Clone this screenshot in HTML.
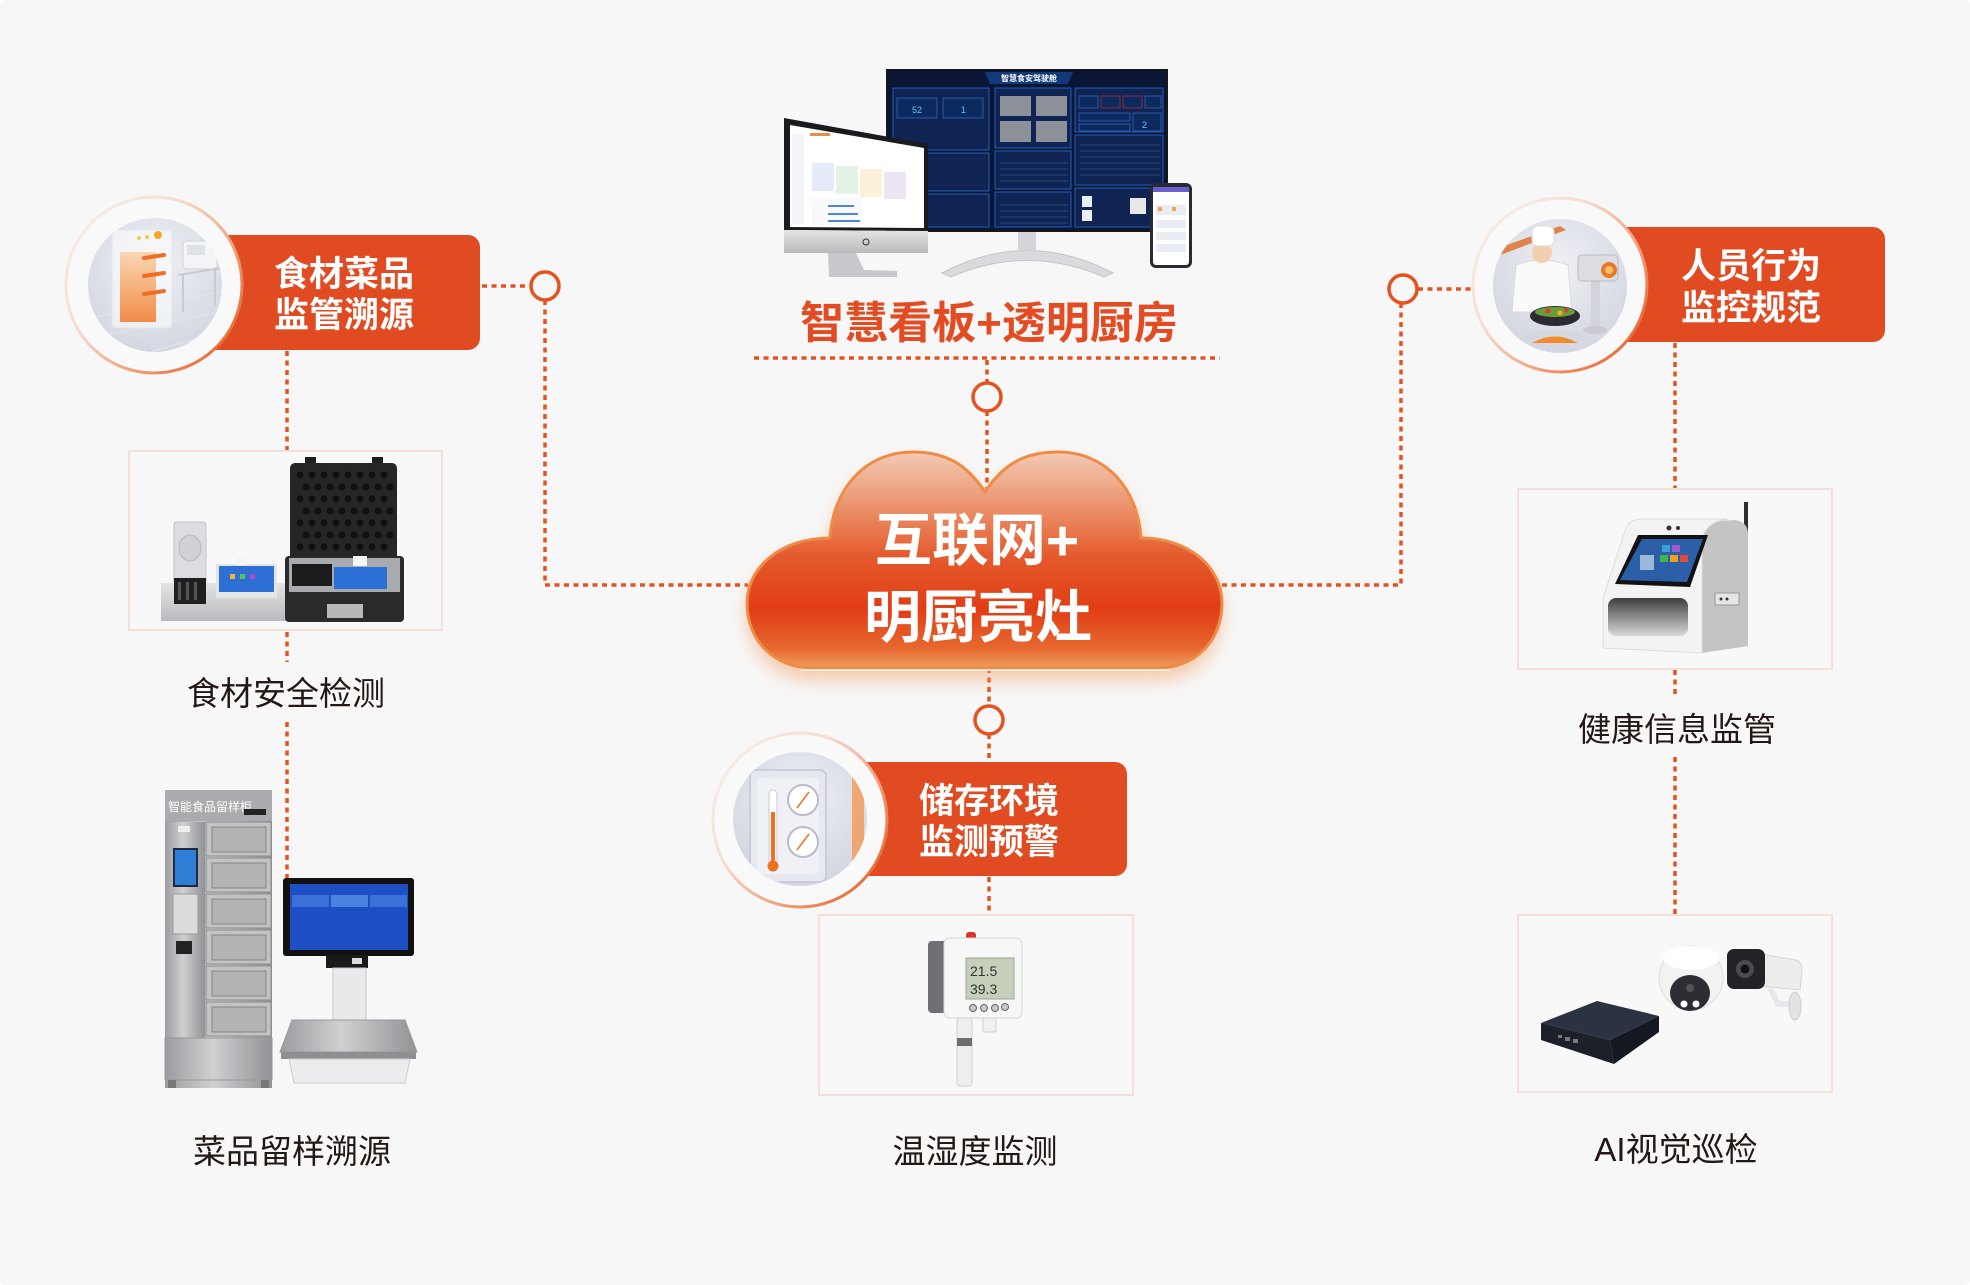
<!DOCTYPE html>
<html><head><meta charset="utf-8">
<style>
html,body{margin:0;padding:0;background:#ffffff;}
svg{display:block}
text{font-family:"Liberation Sans","Noto Sans CJK SC",sans-serif;}
</style></head><body>
<svg width="1970" height="1285" viewBox="0 0 1970 1285" xmlns="http://www.w3.org/2000/svg">
<defs>
 <linearGradient id="cloudG" x1="0" y1="452" x2="0" y2="670" gradientUnits="userSpaceOnUse">
  <stop offset="0" stop-color="#f3cab6"/>
  <stop offset="0.22" stop-color="#ec9a74"/>
  <stop offset="0.48" stop-color="#e45a2c"/>
  <stop offset="0.72" stop-color="#e13d15"/>
  <stop offset="0.9" stop-color="#e7682f"/>
  <stop offset="1" stop-color="#efa262"/>
 </linearGradient>
 <filter id="blur10" x="-30%" y="-30%" width="160%" height="180%"><feGaussianBlur stdDeviation="9"/></filter>
 <linearGradient id="ringG" x1="0" y1="0.1" x2="1" y2="0.9">
  <stop offset="0" stop-color="#f7f0ec"/>
  <stop offset="0.35" stop-color="#f6ddd0"/>
  <stop offset="0.65" stop-color="#f2a27c"/>
  <stop offset="1" stop-color="#e65a24"/>
 </linearGradient>
 <radialGradient id="photoBg" cx="0.5" cy="0.35" r="0.75">
  <stop offset="0" stop-color="#eff0f5"/>
  <stop offset="1" stop-color="#cdd0dc"/>
 </radialGradient>
 <linearGradient id="steel" x1="0" y1="0" x2="1" y2="0">
  <stop offset="0" stop-color="#9a9c9f"/>
  <stop offset="0.45" stop-color="#cfd0d2"/>
  <stop offset="1" stop-color="#909295"/>
 </linearGradient>
 <linearGradient id="silver" x1="0" y1="0" x2="0" y2="1">
  <stop offset="0" stop-color="#e4e4e6"/>
  <stop offset="1" stop-color="#b9babd"/>
 </linearGradient>
 <linearGradient id="orangeGlow" x1="0" y1="0" x2="0" y2="1">
  <stop offset="0" stop-color="#fbd1a8"/>
  <stop offset="1" stop-color="#f07a2a"/>
 </linearGradient>
 <linearGradient id="opening" x1="0" y1="0" x2="0" y2="1">
  <stop offset="0" stop-color="#3e3e3e"/>
  <stop offset="1" stop-color="#d9d9d9"/>
 </linearGradient>
 <clipPath id="c1"><circle cx="155" cy="285" r="67"/></clipPath>
 <clipPath id="c2"><circle cx="1560" cy="286" r="67"/></clipPath>
 <clipPath id="c3"><circle cx="800" cy="819" r="67"/></clipPath>
</defs>

<rect x="0" y="0" width="1970" height="1285" rx="6" fill="#f7f7f7"/>

<g fill="none" stroke="#e5521f" stroke-width="3.5" stroke-dasharray="5 4.5">
 <line x1="482" y1="286" x2="530" y2="286"/>
 <polyline points="545,300 545,585 748,585"/>
 <line x1="287" y1="351" x2="287" y2="450"/>
 <line x1="287" y1="632" x2="287" y2="662"/>
 <line x1="287" y1="722" x2="287" y2="878"/>
 <line x1="754" y1="358" x2="1220" y2="358"/>
 <line x1="987" y1="360" x2="987" y2="383"/>
 <line x1="987" y1="411" x2="987" y2="492"/>
 <polyline points="1222,585 1401,585 1401,303"/>
 <line x1="1418" y1="289" x2="1472" y2="289"/>
 <line x1="1675" y1="343" x2="1675" y2="489"/>
 <line x1="1675" y1="670" x2="1675" y2="696"/>
 <line x1="1675" y1="757" x2="1675" y2="914"/>
 <line x1="989" y1="668" x2="989" y2="706"/>
 <line x1="989" y1="734" x2="989" y2="762"/>
 <line x1="989" y1="877" x2="989" y2="915"/>
</g>
<g fill="#f7f7f7" stroke="#e5521f" stroke-width="3.5">
 <circle cx="545" cy="286" r="14"/>
 <circle cx="987" cy="397" r="14"/>
 <circle cx="1403" cy="289" r="14"/>
 <circle cx="989" cy="720" r="14"/>
</g>

<path d="M 985 502 C 966 473 944 462 913 462 C 864 462 833 500 830 548 C 780 548 747 578 747 613 C 747 650 774 680 812 680 L 1158 680 C 1196 680 1222 650 1222 613 C 1222 578 1190 548 1141 548 C 1138 500 1107 462 1058 462 C 1026 462 1004 473 985 502 Z" fill="#f2a26a" opacity="0.55" filter="url(#blur10)"/>
<path d="M 985 492 C 966 463 944 452 913 452 C 864 452 833 490 830 538 C 780 538 747 568 747 603 C 747 640 774 668 812 668 L 1158 668 C 1196 668 1222 640 1222 603 C 1222 568 1190 538 1141 538 C 1138 490 1107 452 1058 452 C 1026 452 1004 463 985 492 Z" fill="url(#cloudG)" stroke="#ee8b45" stroke-width="3"/>
<path d="M 800 670 L 1170 670" stroke="#fff3e6" stroke-width="2" opacity="0.8"/>
<text x="977" y="560" font-size="57" font-weight="700" fill="#ffffff" text-anchor="middle">互联网+</text>
<text x="978" y="637" font-size="57" font-weight="700" fill="#ffffff" text-anchor="middle">明厨亮灶</text>

<g>
 <rect x="1018" y="228" width="18" height="22" fill="#d4d5d8"/>
 <path d="M 942 273 Q 1027 228 1113 273 L 1104 277 Q 1027 244 951 277 Z" fill="#d9dadc" stroke="#c4c5c8" stroke-width="1"/>
 <rect x="886" y="69" width="282" height="163" fill="#15171c"/>
 <rect x="888" y="71" width="278" height="159" fill="#0a1633"/>
 <path d="M 985 72 L 1073 72 L 1068 84 L 990 84 Z" fill="#123a7a"/>
 <text x="1029" y="81" font-size="8" font-weight="700" fill="#ffffff" text-anchor="middle">智慧食安驾驶舱</text>
 <g fill="#0f2452" stroke="#2b6fd8" stroke-width="0.8">
  <rect x="893" y="88" width="96" height="62"/>
  <rect x="893" y="153" width="96" height="38"/>
  <rect x="893" y="194" width="96" height="33"/>
  <rect x="995" y="88" width="76" height="60"/>
  <rect x="995" y="151" width="76" height="38"/>
  <rect x="995" y="192" width="76" height="35"/>
  <rect x="1075" y="88" width="88" height="44"/>
  <rect x="1075" y="135" width="88" height="50"/>
  <rect x="1075" y="188" width="88" height="39"/>
 </g>
 <g fill="#8b9099">
  <rect x="1000" y="96" width="31" height="20"/><rect x="1036" y="96" width="31" height="20"/>
  <rect x="1000" y="121" width="31" height="21"/><rect x="1036" y="121" width="31" height="21"/>
 </g>
 <g fill="#0d2a5e" stroke="#3b7be0" stroke-width="0.6">
  <rect x="1079" y="96" width="19" height="12"/><rect x="1101" y="96" width="19" height="12" stroke="#d33"/>
  <rect x="1123" y="96" width="19" height="12" stroke="#d33"/><rect x="1145" y="96" width="16" height="12"/>
  <rect x="1079" y="113" width="51" height="8"/><rect x="1079" y="124" width="51" height="7"/>
  <rect x="1133" y="113" width="28" height="18"/>
  <rect x="897" y="98" width="40" height="20"/><rect x="943" y="98" width="40" height="20"/>
 </g>
 <text x="912" y="113" font-size="9" fill="#5ec8ff">52</text>
 <text x="961" y="113" font-size="9" fill="#5ec8ff">1</text>
 <text x="1142" y="128" font-size="9" fill="#5ec8ff">2</text>
 <g stroke="#3f6fb8" stroke-width="0.6">
  <line x1="1080" y1="145" x2="1160" y2="145"/><line x1="1080" y1="151" x2="1160" y2="151"/>
  <line x1="1080" y1="157" x2="1160" y2="157"/><line x1="1080" y1="163" x2="1160" y2="163"/>
  <line x1="1080" y1="169" x2="1160" y2="169"/><line x1="1080" y1="175" x2="1160" y2="175"/>
  <line x1="1000" y1="163" x2="1068" y2="163"/><line x1="1000" y1="169" x2="1068" y2="169"/>
  <line x1="1000" y1="175" x2="1068" y2="175"/><line x1="1000" y1="181" x2="1068" y2="181"/>
  <line x1="1000" y1="205" x2="1068" y2="205"/><line x1="1000" y1="211" x2="1068" y2="211"/>
  <line x1="1000" y1="217" x2="1068" y2="217"/><line x1="1000" y1="223" x2="1068" y2="223"/>
 </g>
 <rect x="1082" y="196" width="10" height="11" fill="#e8eef5"/><rect x="1082" y="210" width="10" height="11" fill="#e8eef5"/>
 <rect x="1130" y="198" width="16" height="16" fill="#e8e8e8"/>
 <polygon points="828,253 856,253 864,270 897,271 897,277 829,277" fill="#c7c8cb"/>
 <polygon points="784,118 928,144 928,231 784,230" fill="#1a1b1e"/>
 <polygon points="790,125 924,148 924,228 790,227" fill="#ffffff"/>
 <polygon points="784,230 928,231 928,253 784,253" fill="url(#silver)"/>
 <circle cx="866" cy="242" r="3" fill="none" stroke="#333" stroke-width="1"/>
 <g>
  <rect x="792" y="134" width="12" height="90" fill="#f3f5f8"/>
  <rect x="812" y="163" width="22" height="28" fill="#e3ecf8"/>
  <rect x="836" y="166" width="22" height="28" fill="#e4f3e6"/>
  <rect x="860" y="169" width="22" height="28" fill="#fbf0da"/>
  <rect x="884" y="172" width="22" height="27" fill="#ece6f4"/>
  <rect x="812" y="198" width="50" height="27" fill="#f8f9fb"/>
  <rect x="828" y="205" width="26" height="2" fill="#4f86d8"/>
  <rect x="828" y="213" width="30" height="2" fill="#4f86d8"/>
  <rect x="828" y="220" width="32" height="2" fill="#4f86d8"/>
  <rect x="810" y="133" width="20" height="3" fill="#f08a4b"/>
 </g>
 <rect x="1150" y="183" width="42" height="85" rx="6" fill="#2a2b30"/>
 <rect x="1153" y="187" width="36" height="78" rx="3" fill="#ffffff"/>
 <rect x="1153" y="187" width="36" height="5" fill="#6b5fd0"/>
 <g fill="#e9ecf2"><rect x="1156" y="205" width="30" height="10"/><rect x="1156" y="220" width="30" height="8"/><rect x="1156" y="232" width="30" height="8"/><rect x="1156" y="244" width="30" height="8"/></g>
 <rect x="1158" y="207" width="4" height="4" fill="#f3a34a"/><rect x="1172" y="207" width="4" height="4" fill="#f3a34a"/>
</g>
<text x="989" y="338" font-size="44" font-weight="700" fill="#e34c22" text-anchor="middle">智慧看板+透明厨房</text>

<rect x="160" y="235" width="320" height="115" rx="12" fill="#e14b22"/>
<circle cx="154" cy="285" r="88" fill="#f9f9f9" stroke="url(#ringG)" stroke-width="3"/>
<g clip-path="url(#c1)">
 <rect x="80" y="210" width="150" height="150" fill="url(#photoBg)"/>
 <g stroke="#e4e6ee" stroke-width="1"><line x1="80" y1="320" x2="230" y2="290"/><line x1="80" y1="340" x2="230" y2="310"/><line x1="120" y1="360" x2="230" y2="330"/></g>
 <rect x="112" y="230" width="60" height="98" rx="4" fill="#ffffff" opacity="0.55" stroke="#e6e7ee"/>
 <rect x="120" y="252" width="36" height="70" fill="url(#orangeGlow)" opacity="0.85"/>
 <g stroke="#ef6d25" stroke-width="4" stroke-linecap="round"><line x1="144" y1="258" x2="164" y2="255"/><line x1="144" y1="276" x2="164" y2="273"/><line x1="144" y1="294" x2="164" y2="291"/></g>
 <circle cx="139" cy="238" r="2" fill="#f7c94a"/><circle cx="147" cy="237" r="2" fill="#f7c94a"/><circle cx="158" cy="235" r="4" fill="#f5a623"/>
 <rect x="183" y="241" width="34" height="28" rx="4" fill="#f4f4f6" stroke="#cfd1d8"/>
 <rect x="187" y="245" width="18" height="10" fill="#dde1e8"/>
 <g stroke="#c8cad2" stroke-width="2"><line x1="178" y1="275" x2="222" y2="268"/><line x1="183" y1="275" x2="183" y2="312"/><line x1="215" y1="270" x2="215" y2="305"/></g>
</g>
<text x="344" y="286" font-size="35" font-weight="700" fill="#ffffff" text-anchor="middle">食材菜品</text>
<text x="344" y="327" font-size="35" font-weight="700" fill="#ffffff" text-anchor="middle">监管溯源</text>

<rect x="1565" y="227" width="320" height="115" rx="12" fill="#e14b22"/>
<circle cx="1560" cy="285" r="87" fill="#f9f9f9" stroke="url(#ringG)" stroke-width="3"/>
<g clip-path="url(#c2)">
 <rect x="1490" y="215" width="140" height="145" fill="url(#photoBg)"/>
 <path d="M 1493 250 L 1560 226 L 1566 230 L 1495 257 Z" fill="#e0824a"/>
 <ellipse cx="1555" cy="338" rx="30" ry="8" fill="#d5d7de"/>
 <path d="M 1532 343 Q 1555 330 1578 343" fill="#f08a2a"/>
 <path d="M 1516 265 Q 1542 255 1568 265 L 1572 312 L 1512 312 Z" fill="#fafafa" stroke="#d8d9de"/>
 <circle cx="1542" cy="253" r="10" fill="#f2cfb0"/>
 <rect x="1532" y="226" width="22" height="20" rx="6" fill="#ffffff" stroke="#dddde2"/>
 <ellipse cx="1555" cy="316" rx="25" ry="10" fill="#2c2c30"/>
 <ellipse cx="1555" cy="312" rx="20" ry="5" fill="#6a9d3a"/>
 <circle cx="1548" cy="311" r="2.5" fill="#e23a2a"/><circle cx="1560" cy="313" r="2.5" fill="#f0b020"/><circle cx="1566" cy="310" r="2" fill="#e23a2a"/>
 <rect x="1591" y="280" width="9" height="48" fill="#d2d4da"/>
 <rect x="1578" y="255" width="40" height="26" rx="4" fill="#dcdde2" stroke="#b8bac0"/>
 <circle cx="1609" cy="270" r="8" fill="#e8782c"/><circle cx="1609" cy="270" r="4" fill="#f8c060"/>
 <ellipse cx="1595" cy="330" rx="12" ry="4" fill="#c8cad0"/>
</g>
<text x="1751" y="278" font-size="35" font-weight="700" fill="#ffffff" text-anchor="middle">人员行为</text>
<text x="1751" y="320" font-size="35" font-weight="700" fill="#ffffff" text-anchor="middle">监控规范</text>

<rect x="805" y="762" width="322" height="114" rx="12" fill="#e14b22"/>
<circle cx="800" cy="820" r="87" fill="#f9f9f9" stroke="url(#ringG)" stroke-width="3"/>
<g clip-path="url(#c3)">
 <rect x="730" y="750" width="140" height="140" fill="url(#photoBg)"/>
 <rect x="852" y="770" width="12" height="100" fill="#f39a55" opacity="0.8"/>
 <rect x="750" y="770" width="76" height="112" rx="6" fill="#e6e8ef" stroke="#c3c6d0" stroke-width="1.5"/>
 <rect x="757" y="778" width="62" height="96" rx="4" fill="#f1f2f6" opacity="0.9"/>
 <rect x="769" y="790" width="8" height="76" rx="4" fill="#ffffff" stroke="#c8cad2"/>
 <rect x="771" y="812" width="4" height="52" fill="#ef7020"/>
 <circle cx="773" cy="866" r="5.5" fill="#ef7020"/>
 <circle cx="803" cy="800" r="15" fill="#ffffff" stroke="#b9bcc6" stroke-width="2"/>
 <line x1="797" y1="808" x2="809" y2="792" stroke="#ef7020" stroke-width="1.5"/>
 <circle cx="803" cy="842" r="15" fill="#ffffff" stroke="#b9bcc6" stroke-width="2"/>
 <line x1="797" y1="850" x2="809" y2="834" stroke="#ef7020" stroke-width="1.5"/>
</g>
<text x="989" y="813" font-size="35" font-weight="700" fill="#ffffff" text-anchor="middle">储存环境</text>
<text x="989" y="854" font-size="35" font-weight="700" fill="#ffffff" text-anchor="middle">监测预警</text>

<g fill="#f8f8f8" stroke="#f5e0d9" stroke-width="2">
 <rect x="129" y="451" width="313" height="179"/>
 <rect x="1518" y="489" width="314" height="180"/>
 <rect x="819" y="915" width="314" height="180"/>
 <rect x="1518" y="915" width="314" height="177"/>
</g>

<g>
 <rect x="161" y="583" width="127" height="38" fill="url(#silver)"/>
 <rect x="174" y="522" width="32" height="62" rx="3" fill="#dcdde1" stroke="#c2c4c9"/>
 <ellipse cx="190" cy="548" rx="11" ry="13" fill="#cfd1d6" stroke="#b8bac0"/>
 <rect x="174" y="578" width="32" height="26" fill="#1f2022"/>
 <g fill="#555"><rect x="178" y="582" width="3" height="18"/><rect x="186" y="582" width="3" height="18"/><rect x="194" y="582" width="3" height="18"/></g>
 <rect x="216" y="564" width="61" height="34" fill="#e4e5e8"/>
 <rect x="219" y="566" width="55" height="26" fill="#2d6fd4"/>
 <g fill="#f6b233"><rect x="230" y="574" width="5" height="5"/><rect x="240" y="574" width="5" height="5" fill="#5bc24a"/><rect x="250" y="574" width="5" height="5" fill="#b04ad0"/></g>
 <rect x="236" y="557" width="10" height="8" fill="#f4f4f4"/>
 <rect x="305" y="457" width="11" height="12" fill="#1e1e1e"/><rect x="372" y="457" width="11" height="12" fill="#1e1e1e"/>
 <rect x="290" y="463" width="107" height="98" rx="5" fill="#262626"/>
 <g fill="#101010">
  <circle cx="300" cy="475" r="3.5"/><circle cx="312" cy="475" r="3.5"/><circle cx="324" cy="475" r="3.5"/><circle cx="336" cy="475" r="3.5"/><circle cx="348" cy="475" r="3.5"/><circle cx="360" cy="475" r="3.5"/><circle cx="372" cy="475" r="3.5"/><circle cx="384" cy="475" r="3.5"/>
  <circle cx="306" cy="487" r="3.5"/><circle cx="318" cy="487" r="3.5"/><circle cx="330" cy="487" r="3.5"/><circle cx="342" cy="487" r="3.5"/><circle cx="354" cy="487" r="3.5"/><circle cx="366" cy="487" r="3.5"/><circle cx="378" cy="487" r="3.5"/><circle cx="390" cy="487" r="3.5"/>
  <circle cx="300" cy="499" r="3.5"/><circle cx="312" cy="499" r="3.5"/><circle cx="324" cy="499" r="3.5"/><circle cx="336" cy="499" r="3.5"/><circle cx="348" cy="499" r="3.5"/><circle cx="360" cy="499" r="3.5"/><circle cx="372" cy="499" r="3.5"/><circle cx="384" cy="499" r="3.5"/>
  <circle cx="306" cy="511" r="3.5"/><circle cx="318" cy="511" r="3.5"/><circle cx="330" cy="511" r="3.5"/><circle cx="342" cy="511" r="3.5"/><circle cx="354" cy="511" r="3.5"/><circle cx="366" cy="511" r="3.5"/><circle cx="378" cy="511" r="3.5"/><circle cx="390" cy="511" r="3.5"/>
  <circle cx="300" cy="523" r="3.5"/><circle cx="312" cy="523" r="3.5"/><circle cx="324" cy="523" r="3.5"/><circle cx="336" cy="523" r="3.5"/><circle cx="348" cy="523" r="3.5"/><circle cx="360" cy="523" r="3.5"/><circle cx="372" cy="523" r="3.5"/><circle cx="384" cy="523" r="3.5"/>
  <circle cx="306" cy="535" r="3.5"/><circle cx="318" cy="535" r="3.5"/><circle cx="330" cy="535" r="3.5"/><circle cx="342" cy="535" r="3.5"/><circle cx="354" cy="535" r="3.5"/><circle cx="366" cy="535" r="3.5"/><circle cx="378" cy="535" r="3.5"/><circle cx="390" cy="535" r="3.5"/>
  <circle cx="300" cy="547" r="3.5"/><circle cx="312" cy="547" r="3.5"/><circle cx="324" cy="547" r="3.5"/><circle cx="336" cy="547" r="3.5"/><circle cx="348" cy="547" r="3.5"/><circle cx="360" cy="547" r="3.5"/><circle cx="372" cy="547" r="3.5"/><circle cx="384" cy="547" r="3.5"/>
 </g>
 <rect x="285" y="556" width="119" height="66" rx="4" fill="#2a2a2a"/>
 <rect x="289" y="558" width="111" height="34" fill="#a8aaae"/>
 <rect x="292" y="564" width="40" height="22" fill="#1c1c1c"/>
 <rect x="334" y="567" width="53" height="22" fill="#2c6fd6"/>
 <rect x="353" y="556" width="14" height="10" fill="#f4f4f4"/>
 <rect x="327" y="604" width="36" height="14" fill="#b8b8b8"/>
</g>

<g>
 <rect x="1744" y="502" width="4" height="44" fill="#2e2e2e"/>
 <path d="M 1700 522 L 1735 520 Q 1748 522 1748 534 L 1748 646 L 1702 653 Z" fill="#c4c4c4"/>
 <path d="M 1603 598 L 1626 528 Q 1630 519 1642 519 L 1728 519 Q 1705 522 1702 540 L 1702 653 L 1603 648 Z" fill="#f3f3f3" stroke="#dcdcdc"/>
 <polygon points="1638,535 1708,535 1690,587 1615,584" fill="#121212"/>
 <polygon points="1642,539 1703,539 1687,582 1620,580" fill="#2b5fa8"/>
 <g><rect x="1662" y="545" width="8" height="7" fill="#3aa0e0"/><rect x="1672" y="545" width="8" height="7" fill="#a05ad0"/><rect x="1660" y="555" width="8" height="7" fill="#3cb84a"/><rect x="1670" y="555" width="8" height="7" fill="#f0a020"/><rect x="1680" y="555" width="8" height="7" fill="#e04a3a"/><rect x="1640" y="555" width="14" height="15" fill="#9cb8d8"/></g>
 <circle cx="1669" cy="528" r="2.5" fill="#333"/><circle cx="1678" cy="528" r="2" fill="#333"/>
 <rect x="1608" y="598" width="80" height="38" rx="8" fill="url(#opening)"/>
 <rect x="1715" y="593" width="24" height="12" fill="#e6e6e6" stroke="#999"/>
 <circle cx="1721" cy="599" r="1.5" fill="#333"/><circle cx="1727" cy="599" r="1.5" fill="#333"/>
</g>

<g>
 <rect x="966" y="932" width="10" height="8" rx="3" fill="#d9352a"/>
 <rect x="928" y="941" width="22" height="72" rx="4" fill="#6f7073"/>
 <rect x="944" y="938" width="78" height="80" rx="6" fill="#f7f7f8" stroke="#d6d6d8"/>
 <rect x="966" y="958" width="48" height="41" fill="#c6cfba" stroke="#9ea496"/>
 <text x="970" y="976" font-size="14" fill="#333">21.5</text>
 <text x="970" y="994" font-size="14" fill="#333">39.3</text>
 <g fill="#c8c8cc" stroke="#666" stroke-width="1"><circle cx="973" cy="1008" r="3.5"/><circle cx="984" cy="1008" r="3.5"/><circle cx="995" cy="1008" r="3.5"/><circle cx="1005" cy="1007" r="3.5"/></g>
 <rect x="957" y="1018" width="15" height="68" rx="3" fill="#eeeeef" stroke="#cfcfd1"/>
 <rect x="957" y="1038" width="15" height="8" fill="#6d6d70"/>
 <rect x="983" y="1018" width="13" height="14" rx="2" fill="#f0f0f0" stroke="#d0d0d0"/>
</g>

<g>
 <polygon points="1541,1023 1597,1001 1659,1016 1610,1040" fill="#2b3242"/>
 <polygon points="1541,1023 1610,1040 1614,1064 1541,1040" fill="#1b2029"/>
 <polygon points="1610,1040 1659,1016 1659,1032 1614,1064" fill="#141820"/>
 <rect x="1558" y="1035" width="4" height="3" fill="#777"/><rect x="1565" y="1037" width="5" height="4" fill="#777"/><rect x="1573" y="1039" width="5" height="4" fill="#777"/>
 <ellipse cx="1691" cy="978" rx="32" ry="32" fill="#f2f2f3" stroke="#dcdcde"/>
 <ellipse cx="1691" cy="958" rx="28" ry="12" fill="#ffffff"/>
 <ellipse cx="1690" cy="993" rx="20" ry="18" fill="#2d2e33"/>
 <circle cx="1684" cy="1004" r="3.5" fill="#ffffff"/><circle cx="1696" cy="1004" r="3.5" fill="#ffffff"/>
 <circle cx="1690" cy="988" r="4" fill="#555"/>
 <path d="M 1760 954 L 1796 960 Q 1802 962 1802 970 L 1800 990 L 1760 986 Z" fill="#ededee" stroke="#d4d4d6"/>
 <rect x="1727" y="949" width="38" height="40" rx="7" fill="#232327"/>
 <circle cx="1745" cy="969" r="9" fill="#4a4b50"/><circle cx="1745" cy="969" r="4.5" fill="#111"/>
 <path d="M 1770 988 L 1778 1004 L 1790 1004" stroke="#e8e8ea" stroke-width="6" fill="none"/>
 <ellipse cx="1795" cy="1006" rx="6" ry="14" fill="#e2e2e4" stroke="#cfcfd1"/>
</g>

<g>
 <rect x="165" y="790" width="107" height="298" fill="url(#steel)"/>
 <rect x="165" y="790" width="107" height="31" fill="#a9abae"/>
 <text x="210" y="811" font-size="12" fill="#ffffff" text-anchor="middle">智能食品留样柜</text>
 <rect x="244" y="809" width="22" height="6" fill="#222"/>
 <rect x="165" y="822" width="40" height="216" fill="url(#steel)"/>
 <rect x="178" y="826" width="12" height="6" fill="#eeeeee"/>
 <rect x="173" y="848" width="25" height="39" fill="#1c2a44"/>
 <rect x="175" y="850" width="21" height="35" fill="#2f7fd6"/>
 <rect x="173" y="894" width="25" height="40" fill="#dcdcdc" stroke="#999"/>
 <rect x="176" y="941" width="16" height="13" fill="#222"/>
 <g fill="#c2c3c5" stroke="#8a8b8d">
  <rect x="206" y="822" width="65" height="34"/><rect x="206" y="858" width="65" height="34"/><rect x="206" y="894" width="65" height="34"/>
  <rect x="206" y="930" width="65" height="34"/><rect x="206" y="966" width="65" height="34"/><rect x="206" y="1002" width="65" height="34"/>
 </g>
 <g fill="#b2b3b5" stroke="#858688">
  <rect x="212" y="827" width="54" height="25"/><rect x="212" y="863" width="54" height="25"/><rect x="212" y="899" width="54" height="25"/>
  <rect x="212" y="935" width="54" height="25"/><rect x="212" y="971" width="54" height="25"/><rect x="212" y="1007" width="54" height="25"/>
 </g>
 <rect x="165" y="1038" width="107" height="42" fill="url(#steel)" stroke="#999"/>
 <rect x="168" y="1080" width="8" height="8" fill="#777"/><rect x="261" y="1080" width="8" height="8" fill="#777"/>
</g>

<g>
 <rect x="283" y="878" width="131" height="78" rx="3" fill="#111"/>
 <rect x="290" y="884" width="118" height="66" fill="#1e4fc4"/>
 <rect x="292" y="895" width="37" height="12" fill="#3b70d8"/><rect x="331" y="895" width="37" height="12" fill="#4a82e0"/><rect x="370" y="895" width="37" height="12" fill="#3b70d8"/>
 <rect x="326" y="955" width="42" height="13" fill="#1a1a1a"/>
 <rect x="352" y="958" width="10" height="6" fill="#ddd"/>
 <rect x="333" y="968" width="33" height="58" fill="#e9e9eb" stroke="#c8c8cb"/>
 <path d="M 292 1020 L 405 1020 L 417 1052 L 280 1052 Z" fill="url(#steel)" stroke="#999"/>
 <rect x="281" y="1052" width="135" height="7" fill="#8e8f92"/>
 <path d="M 289 1059 L 410 1059 L 405 1083 L 294 1083 Z" fill="#ececee" stroke="#cccccf"/>
</g>

<g font-size="33" fill="#231815" text-anchor="middle">
 <text x="286" y="705">食材安全检测</text>
 <text x="292" y="1163">菜品留样溯源</text>
 <text x="975" y="1163">温湿度监测</text>
 <text x="1677" y="741">健康信息监管</text>
 <text x="1676" y="1161">AI视觉巡检</text>
</g>
</svg>
</body></html>
